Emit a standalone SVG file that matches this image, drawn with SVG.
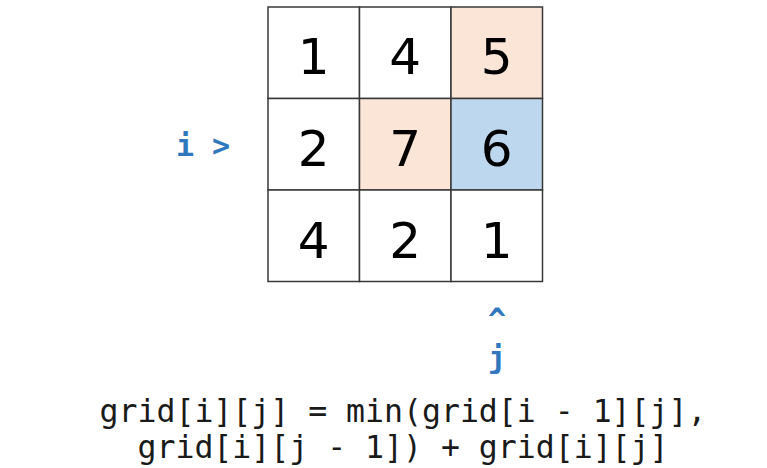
<svg xmlns="http://www.w3.org/2000/svg" width="767" height="468" viewBox="0 0 767 468">
<style>
.cell{stroke:#383838;stroke-width:1.5}
.w{fill:#ffffff}
.p{fill:#fbe5d6}
.b{fill:#bdd7ee}
.num{font-family:"DejaVu Sans",sans-serif;font-size:50px;fill:#000;text-anchor:middle}
.lbl{font-family:"DejaVu Sans Mono","Liberation Mono",monospace;font-size:30px;font-weight:bold;fill:#2f78bd}
.code{font-family:"DejaVu Sans Mono","Liberation Mono",monospace;font-size:31.5px;fill:#1a1a1a;text-anchor:middle}
</style>
<rect width="767" height="468" fill="#ffffff"/>
<g id="grid">
<g id="c00"><rect class="cell w" x="268" y="7" width="91.5" height="91.5"/><text class="num" x="313.7" y="74">1</text></g>
<g id="c01"><rect class="cell w" x="359.5" y="7" width="91.5" height="91.5"/><text class="num" x="405.2" y="74">4</text></g>
<g id="c02"><rect class="cell p" x="451" y="7" width="91.5" height="91.5"/><text class="num" x="496.7" y="74">5</text></g>
<g id="c10"><rect class="cell w" x="268" y="98.5" width="91.5" height="91.5"/><text class="num" x="313.7" y="166">2</text></g>
<g id="c11"><rect class="cell p" x="359.5" y="98.5" width="91.5" height="91.5"/><text class="num" x="405.2" y="166">7</text></g>
<g id="c12"><rect class="cell b" x="451" y="98.5" width="91.5" height="91.5"/><text class="num" x="496.7" y="166">6</text></g>
<g id="c20"><rect class="cell w" x="268" y="190" width="91.5" height="91.5"/><text class="num" x="313.7" y="258">4</text></g>
<g id="c21"><rect class="cell w" x="359.5" y="190" width="91.5" height="91.5"/><text class="num" x="405.2" y="258">2</text></g>
<g id="c22"><rect class="cell w" x="451" y="190" width="91.5" height="91.5"/><text class="num" x="496.7" y="258">1</text></g>
</g>
<g id="i-label"><text class="lbl" x="176" y="156" xml:space="preserve">i &gt;</text></g>
<g id="j-label">
<text class="lbl" x="497" y="330" text-anchor="middle">^</text>
<text class="lbl" x="497" y="368" text-anchor="middle">j</text>
</g>
<g id="formula">
<text class="code" x="403" y="422" xml:space="preserve">grid[i][j] = min(grid[i - 1][j],</text>
<text class="code" x="403" y="458" xml:space="preserve">grid[i][j - 1]) + grid[i][j]</text>
</g>
<g id="connectors"></g>
</svg>
